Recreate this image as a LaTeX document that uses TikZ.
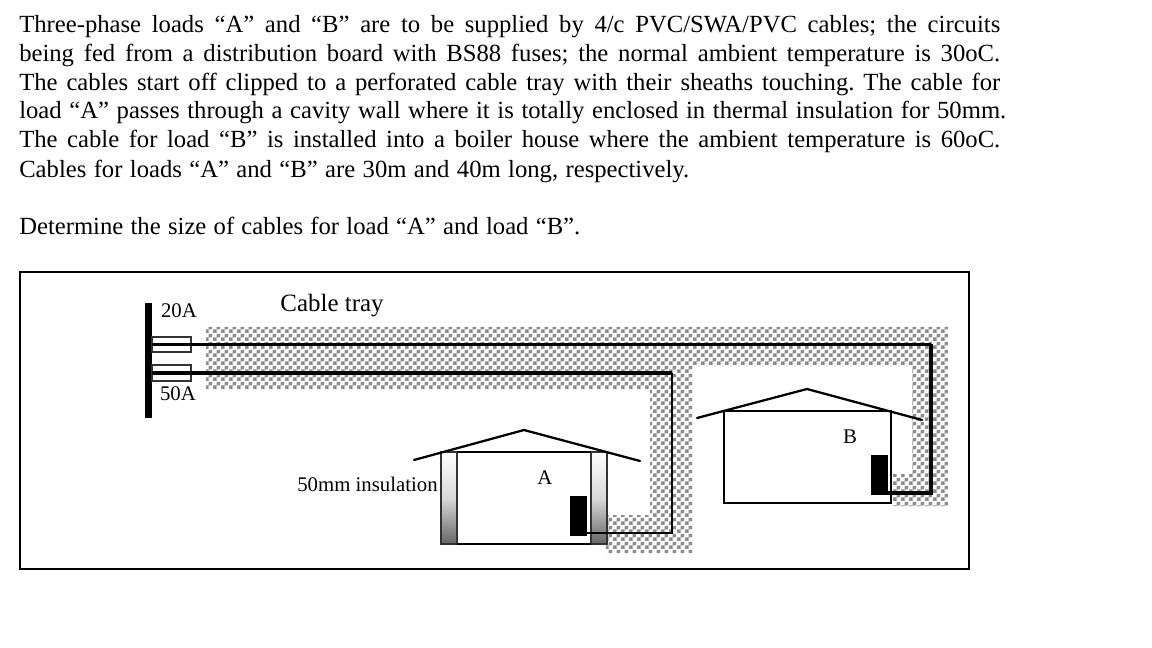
\documentclass[tikz,border=0pt]{standalone}
\usepackage{fontspec}
\setmainfont{Liberation Serif}
\usetikzlibrary{patterns,calc}
\pgfdeclarepatternformonly{chk}{\pgfpointorigin}{\pgfqpoint{5.7pt}{5.7pt}}{\pgfqpoint{5.7pt}{5.7pt}}{%
  \pgfpathrectangle{\pgfpointorigin}{\pgfqpoint{2.85pt}{2.85pt}}%
  \pgfpathrectangle{\pgfqpoint{2.85pt}{2.85pt}}{\pgfqpoint{2.85pt}{2.85pt}}%
  \pgfusepath{fill}}
\newcommand{\bx}[6]{\path let \n1={(#4-#2)*0.75}, \n2={(#5-#3)*0.75} in
  node[#6,minimum width=\n1 pt,minimum height=\n2 pt] (#1) at ({(#2+#4)/2},{(#3+#5)/2}) {};}
\tikzset{
  x=0.75pt,y=-0.75pt,
  para/.style={anchor=base west,inner sep=0pt,font=\fontsize{18.5pt}{22pt}\selectfont\frenchspacing},
  lab/.style={inner sep=0pt,font=\fontsize{15.6pt}{18pt}\selectfont},
  tray/.style={pattern=chk,pattern color=black!45,draw=none},
  plain/.style={draw=black,fill=white,line width=1.5pt,inner sep=0pt,outer sep=0pt},
  wall/.style={draw=black!80,line width=1.5pt,top color=white,bottom color=black!60,middle color=black!15,inner sep=0pt,outer sep=0pt},
  solid box/.style={fill=black,draw=none,inner sep=0pt,outer sep=0pt},
  fuse/.style={draw=black!80,fill=white,line width=0.9pt,inner sep=0pt,outer sep=0pt},
  roof/.style={line width=1.7pt,line cap=round},
  thin cable/.style={line width=1.6pt},
  thick cable/.style={line width=2.7pt},
}
\begin{document}
\begin{tikzpicture}
\useasboundingbox (0,0) rectangle (1152,648);
\fill[white] (0,0) rectangle (1152,648);
% paragraph
\node[para] (t1) at (19,33) {\makebox[735.75pt][s]{Three-phase loads “A” and “B” are to be supplied by 4/c PVC/SWA/PVC cables; the circuits}};
\node[para] (t2) at (19,62) {\makebox[735.75pt][s]{being fed from a distribution board with BS88 fuses; the normal ambient temperature is 30oC.}};
\node[para] (t3) at (19,91) {\makebox[735.75pt][s]{The cables start off clipped to a perforated cable tray with their sheaths touching. The cable for}};
\node[para] (t4) at (19,119) {\makebox[740.25pt][s]{load “A” passes through a cavity wall where it is totally enclosed in thermal insulation for 50mm.}};
\node[para] (t5) at (19,148) {\makebox[735.75pt][s]{The cable for load “B” is installed into a boiler house where the ambient temperature is 60oC.}};
\node[para] (t6) at (19,178) {\makebox[502.5pt][s]{Cables for loads “A” and “B” are 30m and 40m long, respectively.}};
\node[para] (t7) at (19,235) {\makebox[420.75pt][s]{Determine the size of cables for load “A” and load “B”.}};
% frame
\bx{frame}{20}{272}{969}{569}{draw=black,line width=1.5pt,inner sep=0pt}
% tray
\fill[tray] (206,327) -- (948,327) -- (948,506) -- (893,506) -- (893,474) -- (912,474) -- (912,366)
  -- (693,366) -- (693,553) -- (606,553) -- (606,515) -- (650,515) -- (650,389) -- (206,389) -- cycle;
% house A
\bx{wallL}{441}{452}{457}{544}{wall}
\bx{wallR}{591}{452}{607}{544}{wall}
\draw[line width=1.5pt] (wallL.north east) -- (wallR.north west) (wallL.south east) -- (wallR.south west);
\coordinate (peakA) at (524,430);
\coordinate (eaveAl) at (414,460);
\coordinate (eaveAr) at (640,461);
\draw[roof] (eaveAl) -- (peakA) -- (eaveAr);
\bx{panelA}{570}{496}{587}{536}{solid box}
% house B
\bx{houseB}{724}{411}{891}{503}{plain,fill=none}
\coordinate (peakB) at (807,389);
\coordinate (eaveBl) at (697,418);
\coordinate (eaveBr) at (922,420);
\draw[roof] (eaveBl) -- (peakB) -- (eaveBr);
\bx{panelB}{871}{455}{888}{495}{solid box}
% board
\bx{bus}{145}{303}{152}{418}{solid box}
\bx{fuseA}{152}{337}{191}{352}{fuse}
\bx{fuseB}{152}{365}{191}{381}{fuse}
% cables
\coordinate (cornerB) at (931,345);
\coordinate (tapB) at (888,493);
\coordinate (cornerA) at (672,373);
\coordinate (tapA) at (587,533);
\draw[thin cable] (fuseA.west) -- (cornerB |- fuseA.west);
\draw[line width=2.6pt,line join=miter] (cornerB |- fuseA.west) -- (cornerB |- tapB) -- (tapB);
\draw[thick cable] (fuseB.west) -- (cornerA |- fuseB.west);
\draw[thin cable] (cornerA |- fuseB.west) -- (cornerA |- tapA) -- (tapA);
% labels
\node[lab] (l20) at (179,311) {20A};
\node[lab] (l50) at (178,394) {50A};
\node[inner sep=0pt,font=\fontsize{18.7pt}{21pt}\selectfont] (ltray) at (332,306) {Cable tray};
\node[lab,anchor=east] (lins) at (438,484) {50mm insulation};
\node[lab] (lA) at (545,478) {A};
\node[lab] (lB) at (850,437) {B};
\end{tikzpicture}
\end{document}
